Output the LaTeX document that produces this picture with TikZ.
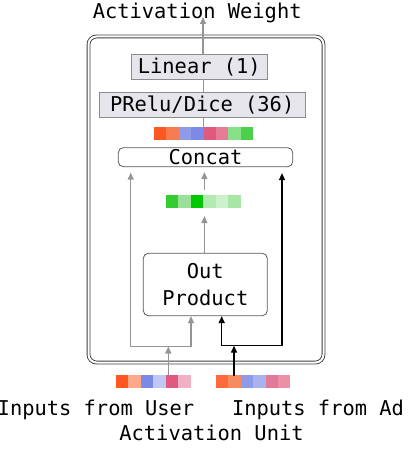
\documentclass[tikz,border=0pt]{standalone}
\usepackage{fontspec}
\setmainfont{DejaVu Sans Mono}
\usetikzlibrary{arrows.meta,calc}
\definecolor{boxfill}{HTML}{E5E5EB}
\definecolor{arrgray}{HTML}{959595}
% concat bar
\definecolor{ca}{HTML}{FF5722}\definecolor{cb}{HTML}{F77B50}\definecolor{cc}{HTML}{8E9BE8}\definecolor{cd}{HTML}{7A8AE6}
\definecolor{ce}{HTML}{E05A80}\definecolor{cf}{HTML}{E87B95}\definecolor{cg}{HTML}{88E088}\definecolor{ch}{HTML}{4CD04C}
% green bar
\definecolor{ga}{HTML}{33CC33}\definecolor{gb}{HTML}{99E099}\definecolor{gc}{HTML}{00C800}
\definecolor{gd}{HTML}{B0EBB0}\definecolor{ge}{HTML}{CCF2CC}\definecolor{gf}{HTML}{A8E6A8}
% user bar
\definecolor{ua}{HTML}{FF5722}\definecolor{ub}{HTML}{FFA88A}\definecolor{uc}{HTML}{7B89E6}
\definecolor{ud}{HTML}{BFC7F5}\definecolor{ue}{HTML}{E05A80}\definecolor{uf}{HTML}{F2B0C5}
% ad bar
\definecolor{aa}{HTML}{FF6A3D}\definecolor{ab}{HTML}{F78A5F}\definecolor{ac}{HTML}{8E9BE8}
\definecolor{ad}{HTML}{A8B2EE}\definecolor{ae}{HTML}{E07A98}\definecolor{af}{HTML}{EC90A8}
\begin{document}
\begin{tikzpicture}[x=1pt,y=-1pt,
  font=\fontsize{20.4}{27.3}\selectfont,
  boxg/.style={draw=black!45, fill=boxfill, line width=0.8pt, inner sep=0pt},
  rbox/.style={draw=black!65, fill=white, rounded corners=5pt, line width=0.8pt, inner sep=0pt, align=center},
  txt/.style={anchor=base, inner sep=0pt},
  bar/.style={inner sep=0pt, minimum height=12.7pt},
  garr/.style={draw=arrgray, line width=1.3pt, line cap=rect, -{Triangle[length=7pt,width=6pt]}},
  thinl/.style={draw=arrgray, line width=0.9pt},
  barr/.style={draw=black, line width=1.4pt, line cap=rect, -{Triangle[length=7pt,width=6pt]}},
]
\useasboundingbox (0,0) rectangle (416,454);

% outer double box
\node[draw=black!75, double, double distance=2pt, line width=0.9pt, rounded corners=8pt,
      minimum width=235pt, minimum height=326pt, inner sep=0pt] (unit) at (206,199.5) {};

% boxes
\node[boxg, minimum width=136.7pt, minimum height=25pt] (lin) at (199.3,66.8) {Linear (1)};
\node[boxg, minimum width=205.7pt, minimum height=24.6pt] (prelu) at (202.2,105) {PRelu/Dice (36)};
\node[rbox, minimum width=174.4pt, minimum height=19pt] (concat) at (205.5,157.2) {Concat};
\node[rbox, minimum width=124pt, minimum height=62.4pt] (op) at (205.3,284.5) {Out\\Product};

% bars
\node[bar, minimum width=99pt] (cbar) at (203.7,133.7) {};
\foreach \c [count=\i from 0] in {ca,cb,cc,cd,ce,cf,cg,ch}
  \fill[\c] ($(cbar.north west)+(\i*12.375,0)$) rectangle ++(12.375,12.7);
\node[bar, minimum width=75pt] (gbar) at (203.5,202) {};
\foreach \c [count=\i from 0] in {ga,gb,gc,gd,ge,gf}
  \fill[\c] ($(gbar.north west)+(\i*12.5,0)$) rectangle ++(12.5,12.7);
\node[bar, minimum width=74.5pt] (ubar) at (153.5,382) {};
\foreach \c [count=\i from 0] in {ua,ub,uc,ud,ue,uf}
  \fill[\c] ($(ubar.north west)+(\i*12.4167,0)$) rectangle ++(12.4167,12.7);
\node[bar, minimum width=74.5pt] (abar) at (253.3,382) {};
\foreach \c [count=\i from 0] in {aa,ab,ac,ad,ae,af}
  \fill[\c] ($(abar.north west)+(\i*12.4167,0)$) rectangle ++(12.4167,12.7);

% texts
\node[txt] (title) at (197.2,18.3) {Activation Weight};
\node[txt] (luser) at (96,415) {Inputs from User};
\node[txt] (lad) at (318,415) {Inputs from Ad};
\node[txt] (lunit) at (211.5,440) {Activation Unit};

% coordinates
\coordinate (wtip) at (203,17);
\coordinate (sx) at (204.4,0);
\coordinate (gl) at (130.7,346.5);
\coordinate (gr) at (191,346.5);
\coordinate (ui) at (168.3,346.5);
\coordinate (bl) at (221.7,345.7);
\coordinate (br) at (282,345.7);
\coordinate (ai) at (234,345.7);

% top spine
\draw[garr] (wtip |- lin.north) -- (wtip);
\draw[thinl] (wtip |- prelu.north) -- (wtip |- lin.south);
\draw[thinl] (wtip |- cbar.north) -- (wtip |- prelu.south);

% gray (user) paths
\draw[garr, shorten >=5.5pt] (gr) -- (gl) -- (gl |- concat.south);
\draw[garr] (gl) -- (gr) -- (gr |- op.south);
\draw[garr] (ui |- ubar.north) -- (ui);

% out product to concat
\draw[garr, shorten >=7.5pt] (sx |- op.north) -- (sx |- gbar.south);
\draw[garr, shorten >=5pt, shorten <=6pt] (sx |- gbar.north) -- (sx |- concat.south);

% black (ad) paths
\draw[barr] (br) -- (bl) -- (bl |- op.south);
\draw[barr, shorten >=6pt] (bl) -- (br) -- (br |- concat.south);
\draw[barr] (ai |- abar.north) -- (ai);
\end{tikzpicture}
\end{document}
